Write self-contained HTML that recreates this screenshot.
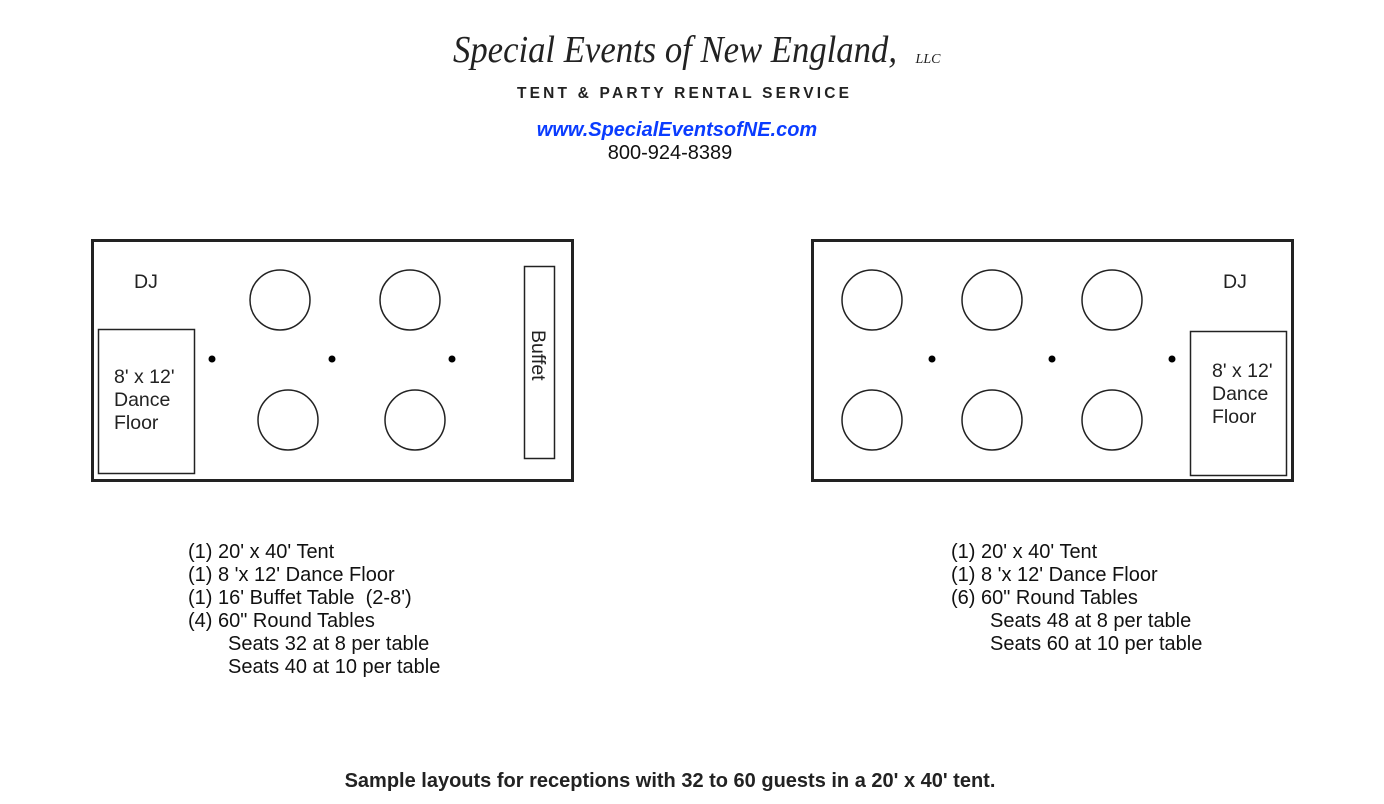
<!DOCTYPE html>
<html><head><meta charset="utf-8"><style>
html,body{margin:0;padding:0;background:#fff;}
body{width:1384px;height:799px;overflow:hidden;}
</style></head><body>
<svg width="1384" height="799" viewBox="0 0 1384 799" xmlns="http://www.w3.org/2000/svg" font-family="Liberation Sans, Arial, sans-serif">
<rect width="1384" height="799" fill="#fff"/>
<text x="675" y="62" text-anchor="middle" font-family="Liberation Serif, serif" font-style="italic" font-size="38" fill="#222" textLength="444" lengthAdjust="spacingAndGlyphs">Special Events of New England,</text>
<text x="928" y="63" text-anchor="middle" font-family="Liberation Serif, serif" font-style="italic" font-size="14" fill="#222">LLC</text>
<text x="517" y="98" font-weight="bold" font-size="15.5" fill="#222" textLength="332" lengthAdjust="spacing">TENT &amp; PARTY RENTAL SERVICE</text>
<text x="677" y="136" text-anchor="middle" font-weight="bold" font-style="italic" font-size="20" fill="#0a3cff">www.SpecialEventsofNE.com</text>
<text x="670" y="159" text-anchor="middle" font-size="20" fill="#111">800-924-8389</text>

<g fill="none" stroke="#222">
<rect x="92.5" y="240.5" width="480" height="240" stroke-width="3"/>
<rect x="98.5" y="329.5" width="96" height="144" stroke-width="1.5"/>
<rect x="524.5" y="266.5" width="30" height="192" stroke-width="1.5"/>
<circle cx="280" cy="300" r="30" stroke-width="1.5"/>
<circle cx="410" cy="300" r="30" stroke-width="1.5"/>
<circle cx="288" cy="420" r="30" stroke-width="1.5"/>
<circle cx="415" cy="420" r="30" stroke-width="1.5"/>

<rect x="812.5" y="240.5" width="480" height="240" stroke-width="3"/>
<rect x="1190.5" y="331.5" width="96" height="144" stroke-width="1.5"/>
<circle cx="872" cy="300" r="30" stroke-width="1.5"/>
<circle cx="992" cy="300" r="30" stroke-width="1.5"/>
<circle cx="1112" cy="300" r="30" stroke-width="1.5"/>
<circle cx="872" cy="420" r="30" stroke-width="1.5"/>
<circle cx="992" cy="420" r="30" stroke-width="1.5"/>
<circle cx="1112" cy="420" r="30" stroke-width="1.5"/>
</g>
<g fill="#000">
<circle cx="212" cy="359" r="3.5"/><circle cx="332" cy="359" r="3.5"/><circle cx="452" cy="359" r="3.5"/>
<circle cx="932" cy="359" r="3.5"/><circle cx="1052" cy="359" r="3.5"/><circle cx="1172" cy="359" r="3.5"/>
</g>
<g font-size="19.5" fill="#222">
<text x="134" y="288">DJ</text>
<text x="114" y="383">8' x 12'</text>
<text x="114" y="406">Dance</text>
<text x="114" y="429">Floor</text>
<text transform="translate(532,330) rotate(90)">Buffet</text>
<text x="1223" y="288">DJ</text>
<text x="1212" y="377">8' x 12'</text>
<text x="1212" y="400">Dance</text>
<text x="1212" y="423">Floor</text>
</g>
<g font-size="20" fill="#111">
<text x="188" y="558">(1) 20' x 40' Tent</text>
<text x="188" y="581">(1) 8 'x 12' Dance Floor</text>
<text x="188" y="604" xml:space="preserve">(1) 16' Buffet Table  (2-8')</text>
<text x="188" y="627">(4) 60" Round Tables</text>
<text x="228" y="650">Seats 32 at 8 per table</text>
<text x="228" y="673">Seats 40 at 10 per table</text>
<text x="951" y="558">(1) 20' x 40' Tent</text>
<text x="951" y="581">(1) 8 'x 12' Dance Floor</text>
<text x="951" y="604">(6) 60" Round Tables</text>
<text x="990" y="627">Seats 48 at 8 per table</text>
<text x="990" y="650">Seats 60 at 10 per table</text>
</g>
<text x="670" y="787" text-anchor="middle" font-weight="bold" font-size="20" fill="#222">Sample layouts for receptions with 32 to 60 guests in a 20' x 40' tent.</text>
</svg>
</body></html>
